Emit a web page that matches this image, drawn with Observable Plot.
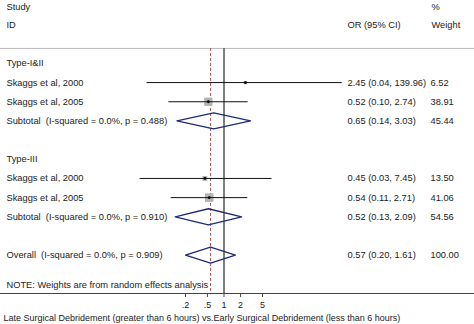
<!DOCTYPE html>
<html>
<head>
<meta charset="utf-8">
<script src="https://cdn.jsdelivr.net/npm/d3@7"></script>
<script src="https://cdn.jsdelivr.net/npm/@observablehq/plot@0.6"></script>
<style>
  html, body { margin: 0; padding: 0; background: #fff; }
  svg text { white-space: pre; }
</style>
</head>
<body>
<div id="chart"></div>
<script>
// ---- data ----
const groupLabels = ["Type-I&II", "Type-III"];
const groupRows = [0, 5];

const studyLabels = ["Skaggs et al, 2000", "Skaggs et al, 2005", "Skaggs et al, 2000", "Skaggs et al, 2005"];
const studyRows = [1, 2, 6, 7];
const studyOR = [2.45, 0.52, 0.45, 0.54];
const studyLo = [0.04, 0.10, 0.03, 0.11];
const studyHi = [139.96, 2.74, 7.45, 2.71];
const studyWeight = [6.52, 38.91, 13.50, 41.06];

const pooledLabels = [
  "Subtotal  (I-squared = 0.0%, p = 0.488)",
  "Subtotal  (I-squared = 0.0%, p = 0.910)",
  "Overall  (I-squared = 0.0%, p = 0.909)"
];
const pooledRows = [3, 8, 10];
const pooledOR = [0.65, 0.52, 0.57];
const pooledLo = [0.14, 0.13, 0.20];
const pooledHi = [3.03, 2.09, 1.61];
const pooledWeight = [45.44, 54.56, 100.00];

const overallOR = 0.57;
const nullValue = 1;

const headerTop = ["Study", "%"];
const headerBottom = ["ID", "OR (95% CI)", "Weight"];
const noteText = "NOTE: Weights are from random effects analysis";
const axisTitle = "Late Surgical Debridement (greater than 6 hours) vs.Early Surgical Debridement (less than 6 hours)";

const tickValues = [0.2, 0.5, 1, 2, 5];
const tickLabels = [".2", ".5", "1", "2", "5"];

// ---- layout constants (row units) ----
const ROW_STUDY = -2.92, ROW_ID = -1.98, ROW_SEP = -0.78, ROW_NOTE = 11.56, ROW_AXIS = 12, ROW_TITLE = 13.3;
const COL_LEFT = 6, COL_OR = 347, COL_W = 430;

// ---- tables built from arrays ----
const studies = studyLabels.map((label, i) => ({
  label, row: studyRows[i], or: studyOR[i], lo: studyLo[i], hi: studyHi[i], w: studyWeight[i]
}));
const pooled = pooledLabels.map((label, i) => ({
  label, row: pooledRows[i], or: pooledOR[i], lo: pooledLo[i], hi: pooledHi[i], w: pooledWeight[i]
}));
const groups = groupLabels.map((label, i) => ({label, row: groupRows[i]}));
const allEst = [...studies, ...pooled];
const fmt = v => v.toFixed(2);
const orText = d => `${fmt(d.or)} (${fmt(d.lo)}, ${fmt(d.hi)})`;

const H = 0.42;
const diamonds = pooled.flatMap((d, i) => [
  {id: i, x: d.lo, y: d.row},
  {id: i, x: d.or, y: d.row - H},
  {id: i, x: d.hi, y: d.row},
  {id: i, x: d.or, y: d.row + H},
  {id: i, x: d.lo, y: d.row}
]);

const textColor = "#222";
const FS = 9.3;

const chart = Plot.plot({
  width: 474,
  height: 324,
  marginTop: 0,
  marginBottom: 31,
  marginLeft: 0,
  marginRight: 0,
  style: {fontFamily: "'Liberation Sans', Arial, sans-serif", fontSize: FS + "px", color: textColor, background: "#fff"},
  x: {type: "log", domain: [0.2, 5], range: [185, 262], axis: null},
  y: {type: "linear", domain: [-3.28, 12], reverse: true, axis: null},
  r: {type: "sqrt", domain: [0, 41.06], range: [0, 4.8]},
  marks: [
    // separator and bottom axis line
    Plot.ruleY([ROW_SEP], {stroke: "#bbb", strokeWidth: 1}),
    Plot.ruleY([ROW_AXIS], {stroke: "#444", strokeWidth: 1.2}),
    // null line and overall dashed line
    Plot.ruleX([nullValue], {y1: ROW_SEP, y2: ROW_AXIS, stroke: "#555", strokeWidth: 1.5}),
    Plot.ruleX([overallOR], {y1: ROW_SEP, y2: ROW_AXIS, stroke: "#a8554d", strokeWidth: 1, strokeDasharray: "3,2"}),
    // weight boxes
    Plot.dot(studies, {x: "or", y: "row", r: "w", symbol: "square", fill: "#b3b3b3", stroke: "none"}),
    // CI lines
    Plot.ruleY(studies, {y: "row", x1: "lo", x2: "hi", stroke: "#111", strokeWidth: 1}),
    // point estimates
    Plot.dot(studies, {x: "or", y: "row", r: 1.4, fill: "#000", stroke: "none"}),
    // diamonds
    Plot.line(diamonds, {x: "x", y: "y", z: "id", stroke: "#1f2a78", strokeWidth: 1.3, curve: "linear"}),
    // headers
    Plot.text([headerTop[0]], {y: ROW_STUDY, frameAnchor: "left", dx: COL_LEFT, textAnchor: "start", text: d => d, fill: textColor}),
    Plot.text([headerTop[1]], {y: ROW_STUDY, frameAnchor: "left", dx: COL_W + 1, textAnchor: "start", text: d => d, fill: textColor}),
    Plot.text([headerBottom[0]], {y: ROW_ID, frameAnchor: "left", dx: COL_LEFT, textAnchor: "start", text: d => d, fill: textColor}),
    Plot.text([headerBottom[1]], {y: ROW_ID, frameAnchor: "left", dx: COL_OR, textAnchor: "start", text: d => d, fill: textColor}),
    Plot.text([headerBottom[2]], {y: ROW_ID, frameAnchor: "left", dx: COL_W + 1, textAnchor: "start", text: d => d, fill: textColor}),
    // left labels
    Plot.text(groups, {y: "row", text: "label", frameAnchor: "left", dx: COL_LEFT, textAnchor: "start", fill: textColor}),
    Plot.text(allEst, {y: "row", text: "label", frameAnchor: "left", dx: COL_LEFT, textAnchor: "start", fill: textColor}),
    // OR column
    Plot.text(allEst, {y: "row", text: orText, frameAnchor: "left", dx: COL_OR, textAnchor: "start", fill: textColor}),
    // weight column
    Plot.text(allEst, {y: "row", text: d => fmt(d.w), frameAnchor: "left", dx: COL_W, textAnchor: "start", fill: textColor}),
    // note
    Plot.text([noteText], {y: ROW_NOTE, text: d => d, frameAnchor: "left", dx: COL_LEFT, textAnchor: "start", fill: textColor}),
    // x axis
    Plot.axisX({ticks: tickValues, tickFormat: d => tickLabels[tickValues.indexOf(d)], tickSize: 4, tickPadding: 4.5, fontSize: 9, label: null, stroke: "#444", fill: textColor}),
    // axis title
    Plot.text([axisTitle], {y: ROW_TITLE, text: d => d, frameAnchor: "left", dx: COL_LEFT - 3, textAnchor: "start", fill: textColor, fontSize: 9})
  ]
});
document.getElementById("chart").appendChild(chart);
</script>
</body>
</html>
